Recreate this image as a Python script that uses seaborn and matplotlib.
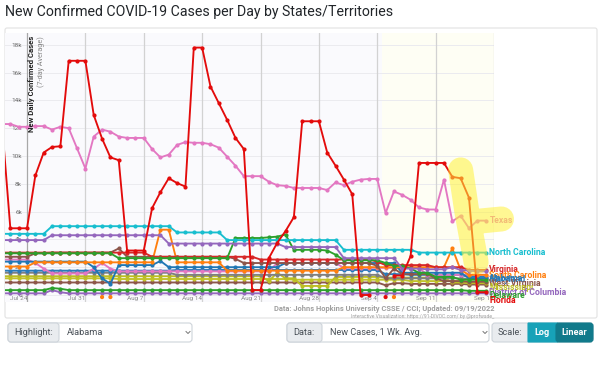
import numpy as np
import pandas as pd
import matplotlib
matplotlib.use("Agg")
import matplotlib.pyplot as plt
import matplotlib.dates as mdates
from matplotlib.patches import FancyBboxPatch
from matplotlib.lines import Line2D
from matplotlib.transforms import IdentityTransform
import seaborn as sns

# ---------------- data (thousands of cases, 7-day avg), Jul 21 .. Sep 17, 2022 ----------------
dates = pd.date_range("2022-07-21", "2022-09-17", freq="D")
nan = np.nan

florida = [12.3, 4.8, 4.8, 4.8, 8.6, 10.25, 10.65,
           10.7, 16.85, 16.85, 16.85, 12.95, 11.25, 9.9,
           9.7, 3.2, 3.2, 3.2, 6.25, 7.4, 8.4,
           8.05, 7.8, 17.8, 17.8, 15.0, 13.8, 12.6,
           11.3, 10.5, 0.35, 0.35, 2.65, 3.75, 4.6,
           5.6, 12.5, 12.5, 12.5, 10.25, 9.3, 8.3,
           7.25, 0.0, 0.0, nan, nan, 1.4, 1.4,
           2.8, 9.5, 9.5, 9.5, 9.5, 8.5, 8.4,
           7.0, 0.2, 0.2]
texas = [12.3, 12.3, 12.1, 12.1, 12.15, 12.15, 11.9,
         12.1, 12.0, 10.55, 9.1, 11.4, 11.9, 11.75,
         11.4, 11.3, 11.3, 11.3, 10.5, 9.9, 10.1,
         10.8, 11.0, 10.95, 10.95, 10.85, 10.6, 9.95,
         9.3, 8.55, 8.55, 8.55, 8.15, 7.9, 7.85,
         7.7, 7.7, 7.7, 7.7, 7.55, 8.1, 7.9,
         8.15, 8.3, 8.35, 8.35, 5.9, 7.45, 7.2,
         6.85, 6.3, 6.15, 6.15, 8.3, 5.3, 5.7,
         4.8, 5.35, 5.35]
north_carolina = [4.4, 4.4, 4.4, 4.4, 4.4, 4.4, 4.95,
                  4.95, 4.95, 4.95, 4.95, 4.95, 4.95, 4.95,
                  4.95, 4.95, 4.95, 4.95, 4.95, 4.95, 4.95,
                  4.5, 4.5, 4.5, 4.5, 4.5, 4.5, 3.95,
                  3.95, 3.95, 3.95, 3.95, 3.95, 3.95, 3.95,
                  3.95, 3.95, 3.95, 3.95, 3.95, 3.95, 3.25,
                  3.25, 3.25, 3.25, 3.25, 3.25, 3.25, 3.25,
                  3.25, 3.05, 3.05, 3.05, 3.05, 3.05, 3.05,
                  3.05, 3.05, 3.05]
georgia = [3.95, 3.95, 3.95, 3.95, 3.95, 3.95, 4.3,
           4.3, 4.3, 4.3, 4.3, 4.3, 4.3, 4.3,
           4.3, 4.3, 4.3, 4.3, 4.3, 4.3, 3.7,
           3.7, 3.7, 3.7, 3.7, 3.7, 3.7, 3.7,
           3.7, 3.7, 3.7, 3.7, 3.7, 3.7, 3.45,
           3.45, 3.45, 3.45, 3.45, 3.45, 3.45, 2.65,
           2.65, 2.65, 2.65, 2.65, 2.65, 2.65, 1.9,
           1.9, 1.9, 1.85, 1.85, 1.85, 2.0, 1.8,
           1.75, 1.7, 1.7]
tennessee = [3.0, 3.0, 3.0, 3.0, 3.0, 3.0, 3.0,
             3.0, 3.0, 3.0, 3.0, 3.0, 3.0, 3.0,
             2.65, 2.65, 2.65, 2.65, 2.65, 2.65, 2.65,
             2.65, 2.65, 2.65, 2.65, 2.65, 2.65, 2.65,
             4.1, 4.1, 4.1, 4.1, 4.15, 4.2, 4.35,
             3.25, 3.25, 3.25, 3.25, 3.2, 2.9, 2.5,
             2.5, 2.5, 2.5, 2.5, 2.3, 2.1, 2.1,
             1.9, 1.6, 1.6, 1.3, 1.3, 1.3, 1.1,
             1.1, 1.1, 1.05]
virginia = [3.05, 3.05, 3.05, 3.05, 3.05, 3.05, 3.05,
            3.05, 3.05, 3.05, 3.05, 3.05, 3.05, 3.05,
            3.05, 3.05, 3.05, 3.05, 2.75, 2.75, 2.75,
            2.75, 2.75, 2.75, 2.75, 2.75, 2.75, 2.75,
            2.75, 2.75, 2.75, 2.55, 2.55, 2.55, 2.55,
            2.55, 2.55, 2.55, 2.55, 2.55, 2.55, 2.55,
            2.55, 2.55, 2.55, 2.4, 2.15, 2.15, 2.15,
            2.15, 2.15, 2.15, 2.0, 2.0, 2.0, 2.0,
            1.8, 1.8, 1.8]
kentucky = [2.75, 2.75, 2.75, 2.75, 3.0, 3.0, 3.05,
            3.05, 3.05, 3.05, 3.05, 3.05, 3.05, 3.05,
            3.35, 2.75, 2.75, 2.75, 2.75, 2.75, 2.75,
            2.75, 2.75, 2.75, 2.75, 2.75, 2.75, 2.75,
            2.6, 2.3, 2.3, 2.3, 2.3, 2.3, 2.3,
            2.3, 2.3, 2.3, 2.3, 2.3, 2.3, 2.3,
            2.3, 2.3, 2.3, 2.1, 1.2, 1.9, 1.5,
            1.5, 1.5, 1.5, 1.2, 1.0, 1.0, 1.0,
            0.95, 0.95, 0.95]
south_carolina = [2.05, 2.05, 2.05, 2.05, 2.35, 2.35, 2.35,
                  2.35, 2.35, 2.35, 2.35, 2.35, 2.35, 2.35,
                  2.35, 2.35, 2.35, 2.35, 2.35, 4.7, 4.7,
                  2.35, 2.35, 2.35, 2.35, 2.35, 2.35, 1.75,
                  1.75, 1.75, 1.75, 1.75, 1.75, 1.75, 1.75,
                  1.75, 1.75, 1.75, 1.75, 1.75, 1.75, 2.0,
                  2.0, 2.0, 2.0, 2.0, 2.0, 2.0, 2.0,
                  2.0, 2.0, 2.0, 2.0, 2.0, 3.35, 1.8,
                  1.45, 1.45, 1.45]
alabama = [2.4, 2.4, 2.4, 2.4, 2.4, 2.4, 2.4,
           2.4, 2.4, 2.4, 2.4, 2.0, 1.2, 0.8,
           2.15, 2.15, 2.15, 2.15, 2.15, 2.45, 2.0,
           2.0, 2.0, 2.0, 2.0, 2.0, 2.0, 2.0,
           2.0, 2.0, 2.0, 2.0, 2.0, 2.0, 2.3,
           2.3, 2.3, 2.3, 2.3, 2.3, 2.3, 2.3,
           2.3, 2.3, 2.3, 2.3, 2.3, 2.3, 1.6,
           1.6, 1.6, 1.6, 1.6, 1.6, 1.6, 1.6,
           1.2, 1.2, 1.2]
louisiana = [2.55, 2.55, 2.55, 2.55, 2.3, 1.9, 1.55,
             1.55, 1.55, 1.55, 1.55, 1.9, 2.3, 1.9,
             1.7, 1.7, 1.7, 1.7, 1.7, 1.7, 1.7,
             1.7, 1.7, 1.7, 1.7, 1.7, 1.7, 1.7,
             1.7, 1.7, 1.7, 1.7, 1.7, 2.3, 2.3,
             2.3, 2.3, 2.3, 2.3, 2.3, 2.3, 1.95,
             1.95, 1.95, 1.95, 1.95, 1.95, 1.95, 1.95,
             1.95, 1.95, 1.45, 1.45, 1.45, 1.45, 1.45,
             1.45, 1.45, 1.45]
oklahoma = [1.6, 1.6, 1.6, 1.6, 1.6, 1.6, 1.6,
            1.6, 1.6, 1.6, 1.6, 1.6, 1.6, 1.6,
            1.6, 1.6, 1.6, 1.6, 1.6, 1.6, 1.6,
            1.45, 1.45, 1.45, 1.45, 1.45, 1.45, 1.45,
            1.45, 1.45, 1.45, 1.45, 1.45, 1.45, 1.45,
            1.45, 1.45, 1.45, 1.45, 1.45, 1.45, 1.45,
            1.45, 1.45, 1.45, 1.45, 1.2, 1.2, 1.2,
            1.2, 1.2, 1.2, 1.2, 1.2, 1.2, 1.2,
            1.15, 1.15, 1.15]
mississippi = [1.35, 1.35, 1.35, 1.35, 1.35, 1.35, 1.35,
               1.35, 1.35, 1.35, 1.35, 1.35, 1.35, 1.35,
               1.35, 1.35, 1.35, 1.35, 1.35, 1.35, 1.35,
               1.35, 1.35, 1.35, 1.35, 1.35, 1.35, 1.35,
               1.35, 1.35, 1.35, 1.35, 1.0, 1.6, 1.2,
               1.2, 0.65, 0.65, 0.65, 0.65, 1.3, 1.3,
               1.3, 1.3, 1.3, 1.3, 1.25, 1.25, 1.25,
               1.25, 1.25, 1.25, 1.25, 1.25, 0.9, 0.9,
               0.85, 0.85, 0.85]
arkansas = [1.2, 1.2, 1.2, 1.2, 1.2, 1.2, 1.2,
            1.2, 1.2, 1.2, 1.2, 1.2, 1.2, 1.2,
            1.15, 1.15, 1.15, 1.15, 1.15, 1.15, 1.15,
            1.15, 1.15, 1.15, 1.15, 1.15, 1.15, 1.15,
            1.15, 1.15, 1.15, 1.15, 1.15, 1.15, 1.15,
            1.1, 1.1, 1.1, 1.1, 1.1, 1.1, 1.1,
            1.1, 1.1, 1.1, 1.1, 1.1, 1.1, 1.1,
            1.0, 1.0, 1.0, 1.0, 1.0, 1.0, 1.0,
            0.95, 0.95, 0.95]
maryland = [1.75, 1.75, 1.75, 1.75, 1.75, 1.75, 1.75,
            1.75, 1.75, 1.75, 1.75, 1.75, 1.75, 1.75,
            1.75, 1.75, 1.75, 1.75, 1.75, 1.75, 1.75,
            1.8, 1.8, 1.8, 1.8, 1.8, 1.8, 1.8,
            1.8, 1.8, 1.8, 1.8, 1.8, 1.8, 1.8,
            1.8, 1.8, 1.8, 1.8, 1.8, 1.8, 1.8,
            1.8, 1.8, 1.8, 1.8, 1.5, 1.5, 1.5,
            1.45, 1.45, 1.45, 1.45, 1.45, 1.45, 1.45,
            1.3, 1.3, 1.3]
west_virginia = [0.9, 0.9, 0.9, 0.9, 0.9, 0.9, 0.9,
                 0.9, 0.9, 0.9, 0.9, 0.9, 0.9, 0.9,
                 0.9, 0.9, 0.9, 0.9, 0.9, 0.9, 0.9,
                 0.9, 0.9, 0.9, 0.9, 0.9, 0.9, 0.9,
                 0.9, 0.9, 0.9, 0.9, 0.9, 0.9, 0.9,
                 0.9, 0.9, 0.9, 0.9, 0.9, 0.9, 0.9,
                 0.9, 0.9, 0.9, 0.9, 0.7, 0.85, 0.85,
                 0.8, 0.8, 0.8, 0.8, 0.8, 0.8, 0.8,
                 0.75, 0.75, 0.75]
delaware = [0.35, 0.35, 0.35, 0.35, 0.35, 0.35, 0.5,
            0.45, 0.35, 0.35, 0.35, 0.35, 0.35, 0.35,
            0.35, 0.35, 0.35, 0.35, 0.35, 0.35, 0.35,
            0.35, 0.35, 0.35, 0.35, 0.35, 0.35, 0.35,
            0.35, 0.35, 0.35, 0.35, 0.35, 0.35, 0.35,
            0.35, 0.35, 0.35, 0.35, 0.35, 0.35, 0.35,
            0.35, 0.35, 0.35, 0.35, 0.35, 0.35, 0.35,
            0.35, 0.35, 0.35, 0.35, 0.35, 0.35, 0.35,
            0.3, 0.3, 0.3]
district_of_columbia = [0.12, 0.12, 0.12, 0.12, 0.12, 0.12, 0.35,
                        0.2, 0.12, 0.12, 0.12, 0.12, 0.12, 0.12,
                        0.12, 0.12, 0.12, 0.12, 0.12, 0.12, 0.12,
                        0.12, 0.12, 0.12, 0.12, 0.12, 0.12, 0.12,
                        0.12, 0.12, 0.12, 0.12, 0.12, 0.12, 0.12,
                        0.12, 0.12, 0.12, 0.12, 0.12, 0.12, 0.12,
                        0.12, 0.12, 0.12, 0.12, 0.12, 0.12, 0.12,
                        0.12, 0.12, 0.12, 0.12, 0.12, 0.12, 0.12,
                        0.12, 0.12, 0.12]

series = {
    "District of Columbia": district_of_columbia, "Delaware": delaware,
    "West Virginia": west_virginia, "Arkansas": arkansas, "Mississippi": mississippi,
    "Oklahoma": oklahoma, "Maryland": maryland, "Louisiana": louisiana,
    "Alabama": alabama, "South Carolina": south_carolina, "Kentucky": kentucky,
    "Virginia": virginia, "Tennessee": tennessee, "Georgia": georgia,
    "North Carolina": north_carolina, "Texas": texas, "Florida": florida,
}
palette = {
    "District of Columbia": "#9467bd", "Delaware": "#2ca02c", "West Virginia": "#8c564b",
    "Arkansas": "#c2c32a", "Mississippi": "#bcbd22", "Oklahoma": "#7f7f7f",
    "Maryland": "#2a7ab8", "Louisiana": "#e377c2", "Alabama": "#1f77b4",
    "South Carolina": "#ff7f0e", "Kentucky": "#8c564b", "Virginia": "#d62728",
    "Tennessee": "#2ca02c", "Georgia": "#9467bd", "North Carolina": "#17becf",
    "Texas": "#e377c2", "Florida": "#e30b0b",
}

# values reported as negative: drawn as dots just under the axis
neg_dates = pd.to_datetime(["2022-08-02", "2022-08-03", "2022-09-05", "2022-09-06"])
neg_values = [-150, -150, -150, -150]
neg_colors = ["#ff7f0e", "#ff7f0e", "#e30b0b", "#ff7f0e"]

tick_dates = pd.date_range("2022-07-24", periods=9, freq="7D")
tick_labels = ["Jul 24", "Jul 31", "Aug 7", "Aug 14", "Aug 21", "Aug 28", "Sep 4", "Sep 11", "Sep 18"]
ytick_vals = [0, 2000, 4000, 6000, 8000, 10000, 12000, 14000, 16000, 18000]
ytick_labels = ["0", "2k", "4k", "6k", "8k", "10k", "12k", "14k", "16k", "18k"]

end_labels = ["Texas", "North Carolina", "Virginia", "South Carolina", "Alabama", "Maryland",
              "West Virginia", "Mississippi", "District of Columbia", "Delaware", "Florida"]
end_label_y = [5350, 3050, 1800, 1370, 1220, 1080, 800, 560, 150, -70, -400]

# ---------------- long table ----------------
rows = []
for st, vals in series.items():
    seg = 0
    for d, v in zip(dates, vals):
        if np.isnan(v):
            seg += 1
            continue
        rows.append((st, d, v * 1000.0, seg))
df = pd.DataFrame(rows, columns=["state", "date", "cases", "segment"])

# ---------------- figure ----------------
W, H = 600, 384
plt.rcParams["font.family"] = ["Roboto", "DejaVu Sans"]
fig = plt.figure(figsize=(W / 100, H / 100), dpi=100)
fig.patch.set_facecolor("white")
PX = IdentityTransform()


def box(x0, y0, x1, y1, fc, ec="#ced4da", lw=0.8, r=3, z=1):
    p = FancyBboxPatch((x0, H - y1), x1 - x0, y1 - y0,
                       boxstyle=f"round,pad=0,rounding_size={r}",
                       fc=fc, ec=ec, lw=lw, transform=PX, zorder=z)
    fig.add_artist(p)


def ptext(x, y, s, **kw):
    fig.text(x, H - y, s, transform=PX, **kw)


# chart panel
box(5, 28, 597, 318, "white", ec="#e2e2e2", lw=0.8, r=2, z=0)

ax = fig.add_axes([5 / W, 1 - 302 / H, (494 - 5) / W, (302 - 33) / H])
ax.set_facecolor("#fafafd")
for s in ax.spines.values():
    s.set_visible(False)

base = mdates.date2num(pd.Timestamp("2022-07-21"))
ax.set_xlim(base + 0.36, base + 59)
ax.set_ylim(-504, 18850)

ax.axvspan(base + 45.6, base + 59, color="#fefef4", zorder=0, lw=0)
for yv in ytick_vals:
    ax.axhline(yv, color="#ebebef", lw=0.7, zorder=0.5)
for i, td in enumerate(tick_dates):
    ax.axvline(td, color="#a8a8a8" if i == 0 else "#d2d2d2", lw=0.9, zorder=0.6)

sns.lineplot(data=df, x="date", y="cases", hue="state", units="segment", estimator=None,
             hue_order=list(series.keys()), palette=palette, marker="o", markersize=3.0,
             markeredgewidth=0, linewidth=1.35, legend=False, ax=ax, sort=True, zorder=3)
sns.scatterplot(x=neg_dates, y=neg_values, hue=list(range(len(neg_colors))),
                palette=neg_colors, s=9, linewidth=0, legend=False, ax=ax, zorder=3)

ax.set_xlabel("")
ax.set_ylabel("")
ax.set_xticks(tick_dates)
ax.set_xticklabels(tick_labels, ha="right")
ax.set_yticks(ytick_vals)
ax.set_yticklabels(ytick_labels)
ax.tick_params(axis="x", length=0, pad=-4.6, labelsize=4.6, colors="#888888")
ax.tick_params(axis="y", length=0, pad=-12.2, labelsize=4.6, colors="#666666")

# end labels
for name, yv in zip(end_labels, end_label_y):
    ax.text(base + 58.45, yv, name, color=palette[name], fontsize=6.2, fontweight="bold",
            ha="left", va="center", clip_on=False, zorder=5)

# yellow highlighter annotation
hx = [55.0, 55.75, 56.85, nan, 56.1, 59.9]
hy = [9000, 5970, 2370, nan, 5250, 5470]
hl = Line2D([base + v for v in hx], hy, color="#fff23a", alpha=0.55, lw=18,
            solid_capstyle="round", solid_joinstyle="round", zorder=6)
hl.set_clip_on(False)
ax.add_line(hl)

# axis titles
ptext(31.5, 36, "New Daily Confirmed Cases", rotation=90, ha="center", va="top",
      fontsize=5.6, fontweight="bold", color="#222222")
ptext(41, 36, "(7-day Average)", rotation=90, ha="center", va="top",
      fontsize=5.2, color="#888888")

# title
ptext(5, 12, "New Confirmed COVID-19 Cases per Day by States/Territories",
      ha="left", va="center", fontsize=10.2, color="#212529")

# sources
ptext(494, 309, "Data: Johns Hopkins University CSSE / CCI; Updated: 09/19/2022",
      ha="right", va="center", fontsize=5.4, fontweight="bold", color="#a0a0a0")
ptext(494, 316, "Interactive Visualization: https://91-DIVOC.com/ by @profwade_",
      ha="right", va="center", fontsize=3.6, color="#a0a0a0")

# controls
ui_font = 6.6
ui_col = "#495057"
cy = 332.5
box(8, 323, 192, 342, "white")
box(8, 323, 59, 342, "#e9ecef")
ptext(14, cy, "Highlight:", ha="left", va="center", fontsize=ui_font, color=ui_col)
ptext(67, cy, "Alabama", ha="left", va="center", fontsize=ui_font, color=ui_col)
fig.add_artist(Line2D([186, 188, 190], [H - 331.5, H - 333.5, H - 331.5], transform=PX,
                      color="#777777", lw=0.7))

box(287, 323, 489, 342, "white")
box(287, 323, 322, 342, "#e9ecef")
ptext(293, cy, "Data:", ha="left", va="center", fontsize=ui_font, color=ui_col)
ptext(330, cy, "New Cases, 1 Wk. Avg.", ha="left", va="center", fontsize=ui_font, color=ui_col)
fig.add_artist(Line2D([483, 485, 487], [H - 331.5, H - 333.5, H - 331.5], transform=PX,
                      color="#777777", lw=0.7))

box(492, 323, 593, 342, "#e9ecef")
box(528, 323, 558, 342, "#17a2b8", ec="#17a2b8", r=0.5)
box(556, 323, 593, 342, "#117a8b", ec="#117a8b")
ptext(498, cy, "Scale:", ha="left", va="center", fontsize=ui_font, color=ui_col)
ptext(542, cy, "Log", ha="center", va="center", fontsize=ui_font, color="white", fontweight="bold")
ptext(574.5, cy, "Linear", ha="center", va="center", fontsize=ui_font, color="white", fontweight="bold")

fig.savefig("out.png", dpi=100)
